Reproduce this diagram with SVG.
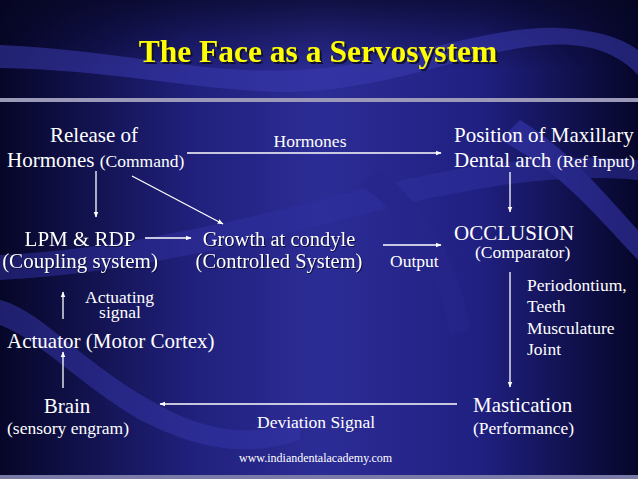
<svg xmlns="http://www.w3.org/2000/svg" width="638" height="479" viewBox="0 0 638 479">
<defs>
<linearGradient id="bg" x1="0" y1="0" x2="1" y2="0">
<stop offset="0" stop-color="#060628"/>
<stop offset="0.3" stop-color="#20207c"/>
<stop offset="0.5" stop-color="#2c2c96"/>
<stop offset="0.75" stop-color="#202082"/>
<stop offset="1" stop-color="#06062a"/>
</linearGradient>
<linearGradient id="topfade" x1="0" y1="0" x2="0" y2="1">
<stop offset="0" stop-color="#050520" stop-opacity="0.7"/>
<stop offset="1" stop-color="#050520" stop-opacity="0"/>
</linearGradient>
<marker id="ah" viewBox="0 0 10 10" refX="9" refY="5" markerWidth="6" markerHeight="6" orient="auto" markerUnits="userSpaceOnUse">
<path d="M0,1 L10,5 L0,9 z" fill="#ffffff"/>
</marker>
<style>
text{font-family:"Liberation Serif","DejaVu Serif",serif}
.t{fill:#ffffff}
.b{font-size:21px}
.m{font-size:20.5px}
.s{font-size:17.5px}
.sh{filter:drop-shadow(1px 1px 0 #101040)}
.c{stroke:#ffffff;stroke-width:1.3;fill:none;marker-end:url(#ah)}
</style>
</defs>
<rect width="638" height="479" fill="url(#bg)"/>
<rect width="638" height="70" fill="url(#topfade)"/>
<g opacity="0.55">
<path d="M0,45 C120,50 200,75 300,70 C400,65 480,25 560,28 C600,30 625,40 638,50 L638,75 C610,45 570,40 520,48 C450,60 380,90 290,92 C200,92 120,70 0,68 Z" fill="#3a3ab0"/>
<path d="M0,255 C100,250 200,230 320,200 C420,175 520,150 638,160 L638,180 C530,170 420,200 320,225 C200,255 100,275 0,280 Z" fill="#3030a0"/>
<path d="M0,300 C40,310 80,360 150,400 C200,430 250,440 300,420 L300,440 C240,460 190,445 140,420 C80,385 40,340 0,325 Z" fill="#3535a8"/>
<path d="M520,120 C570,150 610,200 638,230 L638,260 C600,220 560,170 500,140 Z" fill="#3a3ab8"/>
<path d="M380,170 C420,200 460,260 470,330 L450,335 C440,270 400,210 360,185 Z" fill="#26268c"/>
</g>
<rect x="0" y="98" width="638" height="4" fill="#9a9ab8"/>
<rect x="0" y="475" width="638" height="4" fill="#7a7aa8"/>
<text id="title" x="318" y="62" text-anchor="middle" font-weight="bold" font-size="31.5" fill="#ffff00" style="filter:drop-shadow(2px 2px 0 #101030)">The Face as a Servosystem</text>
<g id="connectors">
<line class="c" x1="187" y1="153" x2="441" y2="153"/>
<line class="c" x1="96" y1="171" x2="96" y2="217"/>
<line class="c" x1="132" y1="176" x2="223" y2="224"/>
<line class="c" x1="510" y1="172" x2="510" y2="212"/>
<line class="c" x1="145" y1="238" x2="191" y2="238"/>
<line class="c" x1="383" y1="245" x2="441" y2="245"/>
<line class="c" x1="510" y1="272" x2="510" y2="387"/>
<line class="c" x1="63" y1="319" x2="63" y2="292"/>
<line class="c" x1="63" y1="388" x2="63" y2="352"/>
<line class="c" x1="457" y1="404" x2="160" y2="404"/>
<text class="t s" x="310" y="147" text-anchor="middle">Hormones</text>
<text class="t s" x="390" y="267">Output</text>
<text class="t s" x="85" y="303">Actuating</text>
<text class="t s" x="120" y="318" text-anchor="middle">signal</text>
<text class="t s" x="257" y="428">Deviation Signal</text>
</g>
<g id="command">
<text class="t b" x="94" y="142" text-anchor="middle">Release of</text>
<text class="t" x="7" y="167"><tspan class="b">Hormones </tspan><tspan class="s">(Command)</tspan></text>
</g>
<g id="refinput">
<text class="t b" x="454" y="142">Position of Maxillary</text>
<text class="t" x="454" y="167"><tspan class="b">Dental arch </tspan><tspan class="s">(Ref Input)</tspan></text>
</g>
<g id="coupling">
<text class="t b sh" x="80" y="246" text-anchor="middle">LPM &amp; RDP</text>
<text class="t b sh" x="80" y="268" text-anchor="middle">(Coupling system)</text>
</g>
<g id="controlled">
<text class="t m sh" x="279" y="246" text-anchor="middle">Growth at condyle</text>
<text class="t m sh" x="279" y="268" text-anchor="middle">(Controlled System)</text>
</g>
<g id="comparator">
<text class="t b" x="454" y="240">OCCLUSION</text>
<text class="t s" x="475" y="258">(Comparator)</text>
</g>
<g id="factors">
<text class="t s" x="527" y="291">Periodontium,</text>
<text class="t s" x="527" y="312">Teeth</text>
<text class="t s" x="527" y="334">Musculature</text>
<text class="t s" x="527" y="355">Joint</text>
</g>
<g id="actuator">
<text class="t b" x="7" y="348">Actuator (Motor Cortex)</text>
</g>
<g id="brain">
<text class="t b" x="67" y="413" text-anchor="middle">Brain</text>
<text class="t s" x="7" y="434">(sensory engram)</text>
</g>
<g id="mastication">
<text class="t b" x="473" y="412">Mastication</text>
<text class="t s" x="473" y="434">(Performance)</text>
</g>
<text class="t" x="239" y="462" font-size="12">www.indiandentalacademy.com</text>
</svg>
